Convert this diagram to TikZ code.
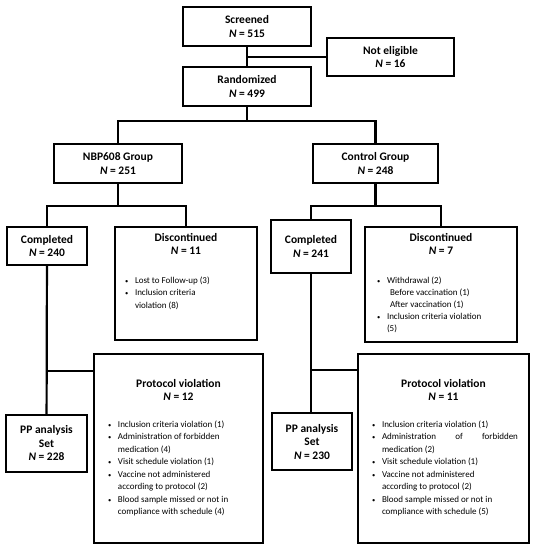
\documentclass[tikz,border=0pt]{standalone}
\usepackage{fontspec}
\setmainfont{Carlito}
\usetikzlibrary{positioning, calc}

\newcommand{\itm}{\makebox[10pt][l]{\fontsize{6.5}{6.5}\selectfont\textbullet}}
\newcommand{\ind}{\hspace*{10pt}}
\newcommand{\listfont}{\mdseries\fontsize{9}{12.5}\selectfont}

\begin{document}
\begin{tikzpicture}[
        x=1pt, y=-1pt,
        box/.style={draw, line width=2.4pt, inner sep=0pt, align=center, font=\bfseries\fontsize{11.5}{13.5}\selectfont},
        wire/.style={line width=2.2pt}
    ]
    \useasboundingbox (0,0) rectangle (536,550);

    % Top of the flow
    \node (screened) [box, minimum width=128pt, minimum height=39pt] at (247,26.5) {Screened\\\textit{N} = 515};
    \node (noteligible) [box, minimum width=127pt, minimum height=38pt] at (390.5,57) {Not eligible\\\textit{N} = 16};
    \node (randomized) [box, minimum width=128pt, minimum height=39pt] at (247,86.5) {Randomized\\\textit{N} = 499};

    % Groups
    \node (nbp) [box, minimum width=128pt, minimum height=39pt] at (118,163.5) {NBP608 Group\\\textit{N} = 251};
    \node (control) [box, minimum width=125pt, minimum height=39pt] at (375.5,163.5) {Control Group\\\textit{N} = 248};

    % Second level
    \node (compL) [box, minimum width=80pt, minimum height=38pt] at (47,246) {Completed\\\textit{N} = 240};
    \node (discL) [box] at (186,283.5) {\parbox[c][113pt][t]{142pt}{\centering\vspace*{6pt}Discontinued\\\textit{N} = 11\par\vspace{16pt}
        \raggedright\leftskip=10pt\listfont
        \itm Lost to Follow-up (3)\\
        \itm Inclusion criteria\\
        \ind violation (8)\par}};
    \node (compR) [box, minimum width=80pt, minimum height=53pt] at (311,246.5) {Completed\\\textit{N} = 241};
    \node (discR) [box] at (441,284.5) {\parbox[c][115pt][t]{152pt}{\centering\vspace*{6pt}Discontinued\\\textit{N} = 7\par\vspace{17pt}
        \raggedright\leftskip=12pt\fontsize{9}{12}\selectfont\mdseries
        \itm Withdrawal (2)\\
        \ind\hspace*{3pt}Before vaccination (1)\\
        \ind\hspace*{3pt}After vaccination (1)\\
        \itm Inclusion criteria violation\\
        \ind (5)\par}};

    % Third level
    \node (ppL) [box, minimum width=81pt, minimum height=57pt] at (46.5,443.5) {PP analysis\\Set\\\textit{N} = 228};
    \node (protL) [box] at (178.5,448.5) {\parbox[c][189pt][t]{169pt}{\centering\vspace*{25pt}Protocol violation\\\textit{N} = 12\par\vspace{14pt}
        \raggedright\leftskip=14pt\listfont
        \itm Inclusion criteria violation (1)\\
        \itm Administration of forbidden\\
        \ind medication (4)\\
        \itm Visit schedule violation (1)\\
        \itm Vaccine not administered\\
        \ind according to protocol (2)\\
        \itm Blood sample missed or not in\\
        \ind compliance with schedule (4)\par}};
    \node (ppR) [box, minimum width=80pt, minimum height=57pt] at (312,441.5) {PP analysis\\Set\\\textit{N} = 230};
    \node (protR) [box] at (443.5,448.5) {\parbox[c][189pt][t]{171pt}{\centering\vspace*{25pt}Protocol violation\\\textit{N} = 11\par\vspace{14pt}
        \raggedright\leftskip=14pt\listfont
        \itm Inclusion criteria violation (1)\\
        \itm\makebox[136pt][s]{Administration of forbidden}\\
        \ind medication (2)\\
        \itm Visit schedule violation (1)\\
        \itm Vaccine not administered\\
        \ind according to protocol (2)\\
        \itm Blood sample missed or not in\\
        \ind compliance with schedule (5)\par}};

    % Split points
    \coordinate (split) at (247,121);
    \coordinate (splitL) at (118,206);
    \coordinate (splitR) at (375.5,206);
    \coordinate (branchL) at (47,371);
    \coordinate (branchR) at (311,370);

    % Wires
    \draw[wire] (screened) -- (randomized);
    \draw[wire] (screened.south |- noteligible.west) -- (noteligible.west);
    \draw[wire] (randomized) -- (split);
    \draw[wire] (nbp.north) |- (split) -| (control.north);

    \draw[wire] (nbp) -- (splitL);
    \draw[wire] (compL.north) |- (splitL) -| (discL.north);
    \draw[wire] (control) -- (splitR);
    \draw[wire] (compR.north) |- (splitR) -| (discR.north);

    \draw[wire] (compL) -- (ppL);
    \draw[wire] (branchL) -- (branchL -| protL.west);
    \draw[wire] (compR) -- (ppR.north -| compR.south);
    \draw[wire] (branchR) -- (branchR -| protR.west);

\end{tikzpicture}
\end{document}
